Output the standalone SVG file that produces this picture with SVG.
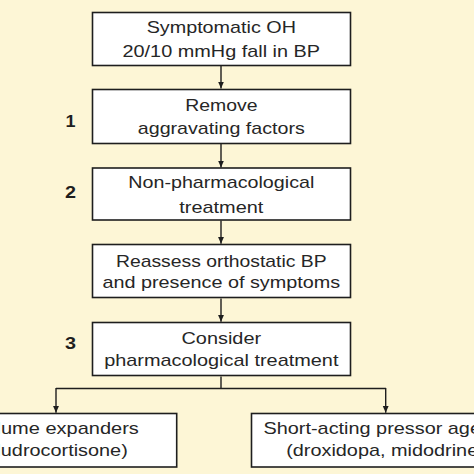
<svg xmlns="http://www.w3.org/2000/svg" width="474" height="474" viewBox="0 0 474 474">
<style>
.box{fill:#ffffff;stroke:#1e1e1e;stroke-width:1.6}
.t{font-family:"Liberation Sans",Arial,sans-serif;font-size:17px;fill:#262626;text-anchor:middle}
.n{font-family:"Liberation Sans",Arial,sans-serif;font-size:16px;font-weight:bold;fill:#1e1e1e;text-anchor:middle}
.c{fill:none;stroke:#1e1e1e;stroke-width:1.4}
</style>
<defs>
<marker id="ah" markerWidth="8" markerHeight="8" refX="7" refY="4" orient="auto" markerUnits="userSpaceOnUse">
<path d="M0,1 L7,4 L0,7 Z" fill="#1e1e1e"/>
</marker>
</defs>
<rect x="0" y="0" width="474" height="474" fill="#fdf6d6"/>
<g id="connectors">
<line class="c" x1="221" y1="66" x2="221" y2="88.5" marker-end="url(#ah)"/>
<line class="c" x1="221" y1="144" x2="221" y2="167.5" marker-end="url(#ah)"/>
<line class="c" x1="221" y1="220.5" x2="221" y2="243.8" marker-end="url(#ah)"/>
<line class="c" x1="221" y1="298.5" x2="221" y2="321.8" marker-end="url(#ah)"/>
<path class="c" d="M221,376.5 V388.5 M56,388.5 H386"/>
<line class="c" x1="56" y1="388" x2="56" y2="412.8" marker-end="url(#ah)"/>
<line class="c" x1="385.7" y1="388" x2="385.7" y2="412.8" marker-end="url(#ah)"/>
</g>
<g id="n1">
<rect class="box" x="92.5" y="12.5" width="258" height="53"/>
<text class="t" x="221.3" y="32.5" textLength="149.3" lengthAdjust="spacingAndGlyphs">Symptomatic OH</text>
<text class="t" x="221.3" y="57" textLength="197.6" lengthAdjust="spacingAndGlyphs">20/10 mmHg fall in BP</text>
</g>
<g id="n2">
<rect class="box" x="92.5" y="89.5" width="258" height="54"/>
<text class="t" x="221.3" y="110.7" textLength="72.3" lengthAdjust="spacingAndGlyphs">Remove</text>
<text class="t" x="221.3" y="134" textLength="167" lengthAdjust="spacingAndGlyphs">aggravating factors</text>
<text class="n" x="70.5" y="126.7" textLength="10" lengthAdjust="spacingAndGlyphs">1</text>
</g>
<g id="n3">
<rect class="box" x="92.5" y="168" width="258" height="52"/>
<text class="t" x="221.3" y="187.7" textLength="186" lengthAdjust="spacingAndGlyphs">Non-pharmacological</text>
<text class="t" x="221.3" y="212.7" textLength="84" lengthAdjust="spacingAndGlyphs">treatment</text>
<text class="n" x="70.5" y="198.3" textLength="11" lengthAdjust="spacingAndGlyphs">2</text>
</g>
<g id="n4">
<rect class="box" x="92.5" y="244.5" width="258" height="53"/>
<text class="t" x="221.3" y="266.7" textLength="210.7" lengthAdjust="spacingAndGlyphs">Reassess orthostatic BP</text>
<text class="t" x="221.3" y="288.3" textLength="237.7" lengthAdjust="spacingAndGlyphs">and presence of symptoms</text>
</g>
<g id="n5">
<rect class="box" x="92.5" y="322.5" width="258" height="53"/>
<text class="t" x="221.3" y="343.7" textLength="79.7" lengthAdjust="spacingAndGlyphs">Consider</text>
<text class="t" x="221.3" y="365.5" textLength="234.3" lengthAdjust="spacingAndGlyphs">pharmacological treatment</text>
<text class="n" x="70.5" y="349" textLength="11" lengthAdjust="spacingAndGlyphs">3</text>
</g>
<g id="n6">
<rect class="box" x="-65" y="413.5" width="241.7" height="53.5"/>
<text class="t" x="56" y="434" textLength="165.6" lengthAdjust="spacingAndGlyphs">Volume expanders</text>
<text class="t" x="56" y="456" textLength="143.5" lengthAdjust="spacingAndGlyphs">(fludrocortisone)</text>
</g>
<g id="n7">
<rect class="box" x="251.5" y="413.5" width="268" height="53.5"/>
<text class="t" x="385.5" y="434" textLength="243.9" lengthAdjust="spacingAndGlyphs">Short-acting pressor agents</text>
<text class="t" x="385.5" y="456" textLength="198.7" lengthAdjust="spacingAndGlyphs">(droxidopa, midodrine)</text>
</g>
</svg>
